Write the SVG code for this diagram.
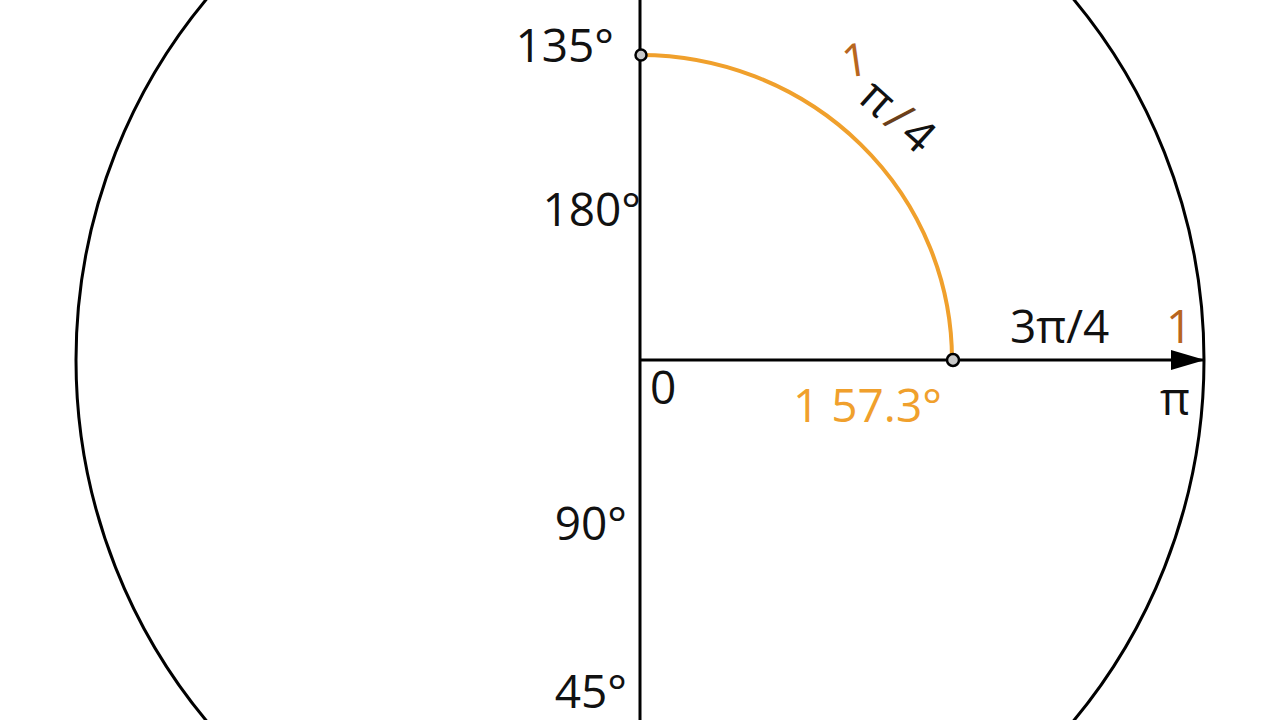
<svg xmlns="http://www.w3.org/2000/svg" width="1280" height="720" viewBox="0 0 1280 720">
<style>
.lbl{font-family:"Open Sans","Liberation Sans",sans-serif;font-size:46px;fill:#111}
.org{fill:#f0a02c}
.brn{fill:#b8661e}
.ln{stroke:#000;stroke-width:3;fill:none}
.dot{fill:#c8c8c8;stroke:#000;stroke-width:2.5}
</style>
<defs>
<marker id="ah" markerWidth="34" markerHeight="20" refX="33" refY="10" orient="auto" markerUnits="userSpaceOnUse">
<path d="M0,0 L34,10 L0,20 Z" fill="#000"/>
</marker>
</defs>
<rect width="1280" height="720" fill="#fff"/>
<g id="circle"><circle cx="640" cy="360" r="564" class="ln"/></g>
<g id="connectors">
<line x1="640" y1="0" x2="640" y2="720" class="ln"/>
<line x1="640" y1="360" x2="1204" y2="360" class="ln" marker-end="url(#ah)"/>
<path d="M640,55 A312,305 0 0 1 952,360" fill="none" stroke="#f0a02c" stroke-width="4"/>
</g>
<g id="points">
<circle cx="641" cy="55" r="5.5" class="dot"/>
<circle cx="953" cy="360" r="6" class="dot"/>
</g>
<g id="labels">
<text class="lbl" x="614" y="62" text-anchor="end">135°</text>
<text class="lbl" x="641" y="226" text-anchor="end">180°</text>
<text class="lbl" x="627" y="540" text-anchor="end">90°</text>
<text class="lbl" x="627" y="708" text-anchor="end">45°</text>
<text class="lbl" x="650" y="404" font-size="44">0</text>
<text class="lbl org" x="793" y="422" font-size="47">1 57.3°</text>
<text class="lbl" x="1010" y="343" font-size="41">3π/4</text>
<text class="lbl brn" x="1166" y="343" font-size="44">1</text>
<text class="lbl" x="1160" y="415" font-size="40">π</text>
<text class="lbl brn" transform="translate(844,78) rotate(-8)" font-size="40">1</text>
<text class="lbl" transform="translate(856,100) rotate(42)" font-size="44" letter-spacing="5">π<tspan fill="#6b3f1a">/</tspan>4</text>
</g>
</svg>
